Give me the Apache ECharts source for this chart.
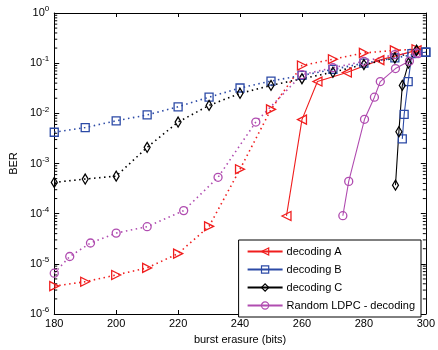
<!DOCTYPE html>
<html>
<head>
<meta charset="utf-8">
<script src="https://cdn.jsdelivr.net/npm/echarts@6/dist/echarts.min.js"></script>
<style>
  html, body { margin: 0; padding: 0; background: #fff; }
  #chart { width: 438px; height: 350px; }
</style>
</head>
<body>
<div id="chart"></div>
<script>
// burst erasure (bits) / BER
var names = ['decoding A', 'decoding B', 'decoding C', 'Random LDPC - decoding'];
var colors = ['#f01e1e', '#2c4aa6', '#000000', '#b04cb0'];

// solid curves
var aX = [255, 260, 265, 274.5, 285, 297];
var aY = [9e-5, 7.5e-3, 0.043, 0.065, 0.115, 0.18];
var bX = [292.4, 293, 294.3, 295.5, 300];
var bY = [3.1e-3, 9.5e-3, 0.043, 0.155, 0.165];
var cX = [290.2, 291.3, 292.4, 294.4, 297];
var cY = [3.7e-4, 4.3e-3, 0.036, 0.1, 0.18];
var dX = [273.2, 275.1, 280.2, 283.4, 285.3, 290.2, 294.7, 297.5];
var dY = [9.1e-5, 4.4e-4, 7.6e-3, 0.021, 0.043, 0.078, 0.11, 0.155];

// dotted curves
var aDotX = [180, 190, 200, 210, 220, 230, 240, 250, 260, 270, 280, 290, 297];
var aDotY = [3.6e-6, 4.4e-6, 6e-6, 8.3e-6, 1.6e-5, 5.6e-5, 7.7e-4, 1.2e-2, 0.09, 0.12, 0.16, 0.18, 0.19];
var bDotX = [180, 190, 200, 210, 220, 230, 240, 250, 260, 270, 280, 290, 300];
var bDotY = [4.2e-3, 5.2e-3, 7.1e-3, 9.3e-3, 0.0135, 0.021, 0.032, 0.044, 0.057, 0.075, 0.1, 0.127, 0.165];
var cDotX = [180, 190, 200, 210, 220, 230, 240, 250, 260, 270, 280, 290, 297];
var cDotY = [4.2e-4, 4.9e-4, 5.6e-4, 2.1e-3, 6.7e-3, 0.0144, 0.025, 0.036, 0.049, 0.066, 0.094, 0.127, 0.18];
var dDotX = [180, 185, 191.7, 200, 210, 221.8, 232.9, 245.1, 260, 270, 280, 290, 297];
var dDotY = [6.5e-6, 1.4e-5, 2.6e-5, 4.1e-5, 5.5e-5, 1.15e-4, 5.3e-4, 6.7e-3, 0.059, 0.081, 0.109, 0.148, 0.16];

var xTicks = [180, 200, 220, 240, 260, 280, 300];
var minorTicks = [];
for (var e = -6; e < 0; e++) {
    for (var m = 2; m <= 9; m++) minorTicks.push(m * Math.pow(10, e));
}

var symbols = ['triangle', 'rect', 'diamond', 'circle'];
var sizes = [9, 8, [6, 10], 8];
var solidRot = [90, 0, 0, 0];
var dotRot = [-90, 0, 0, 0];

function pairs(xs, ys) {
    return xs.map(function (x, i) { return [x, ys[i]]; });
}

function lineSeries(i, xs, ys, dotted) {
    return {
        name: names[i],
        type: 'line',
        data: pairs(xs, ys),
        symbol: symbols[i],
        symbolSize: sizes[i],
        symbolRotate: dotted ? dotRot[i] : solidRot[i],
        showAllSymbol: true,
        itemStyle: { color: 'rgba(255,255,255,0)', borderColor: colors[i], borderWidth: 1.3 },
        lineStyle: { color: colors[i], width: dotted ? 1.6 : 1.1, type: dotted ? [1.5, 3.5] : 'solid' },
        emphasis: { disabled: true },
        animation: false
    };
}

var series = [
    lineSeries(0, aX, aY, false),
    lineSeries(1, bX, bY, false),
    lineSeries(2, cX, cY, false),
    lineSeries(3, dX, dY, false),
    lineSeries(0, aDotX, aDotY, true),
    lineSeries(1, bDotX, bDotY, true),
    lineSeries(2, cDotX, cDotY, true),
    lineSeries(3, dDotX, dDotY, true),
    {
        type: 'custom',
        silent: true,
        animation: false,
        data: minorTicks.map(function (v) { return [180, v]; }),
        renderItem: function (params, api) {
            var l = api.coord([180, api.value(1)]);
            var r = api.coord([300, api.value(1)]);
            var st = { stroke: '#000', lineWidth: 1 };
            return {
                type: 'group',
                children: [
                    { type: 'line', shape: { x1: l[0], y1: l[1], x2: l[0] + 3, y2: l[1] }, style: st },
                    { type: 'line', shape: { x1: r[0], y1: r[1], x2: r[0] - 3, y2: r[1] }, style: st }
                ]
            };
        }
    }
];

var chart = echarts.init(document.getElementById('chart'));
var font = 'Liberation Sans, Arial, sans-serif';
var axisLine = { show: true, lineStyle: { color: '#000', width: 1 } };

chart.setOption({
    backgroundColor: '#fff',
    textStyle: { fontFamily: font },
    grid: { left: 44, right: 12, top: 13, bottom: 35 },
    legend: {
        data: names,
        orient: 'vertical',
        right: 17,
        top: 240,
        itemWidth: 35,
        itemHeight: 9,
        itemGap: 7,
        padding: [6, 6, 6, 8],
        backgroundColor: '#fff',
        borderColor: '#000',
        borderWidth: 1,
        borderRadius: 0,
        itemStyle: { color: 'rgba(255,255,255,0)', borderWidth: 1.2 },
        textStyle: { color: '#000', fontSize: 11, fontFamily: font, padding: [0, 0, 0, -1] },
        selectedMode: false
    },
    xAxis: [{
        type: 'value',
        min: xTicks[0],
        max: xTicks[xTicks.length - 1],
        interval: 20,
        name: 'burst erasure (bits)',
        nameLocation: 'middle',
        nameGap: 20,
        nameTextStyle: { color: '#000', fontSize: 11 },
        axisLine: axisLine,
        axisTick: { inside: true, length: 4, lineStyle: { color: '#000' } },
        axisLabel: { color: '#000', fontSize: 11, margin: 4 },
        splitLine: { show: false }
    }, {
        type: 'value',
        position: 'top',
        min: xTicks[0],
        max: xTicks[xTicks.length - 1],
        interval: 20,
        axisLine: axisLine,
        axisTick: { inside: true, length: 4, lineStyle: { color: '#000' } },
        axisLabel: { show: false },
        splitLine: { show: false }
    }],
    yAxis: [{
        type: 'log',
        logBase: 10,
        min: 1e-6,
        max: 1,
        interval: 1,
        name: 'BER',
        nameLocation: 'middle',
        nameGap: 30,
        nameTextStyle: { color: '#000', fontSize: 11 },
        axisLine: axisLine,
        axisTick: { inside: true, length: 5, lineStyle: { color: '#000' } },
        axisLabel: {
            color: '#000',
            margin: 5,
            formatter: function (v) {
                return '{b|10}{s|' + Math.round(Math.log10(v)) + '}';
            },
            rich: {
                b: { fontSize: 11, color: '#000', fontFamily: font },
                s: { fontSize: 8, color: '#000', fontFamily: font, padding: [0, 0, 8, 0] }
            }
        },
        splitLine: { show: false }
    }, {
        type: 'log',
        logBase: 10,
        min: 1e-6,
        max: 1,
        interval: 1,
        position: 'right',
        axisLine: axisLine,
        axisTick: { inside: true, length: 5, lineStyle: { color: '#000' } },
        axisLabel: { show: false },
        splitLine: { show: false }
    }],
    series: series
});
</script>
</body>
</html>
